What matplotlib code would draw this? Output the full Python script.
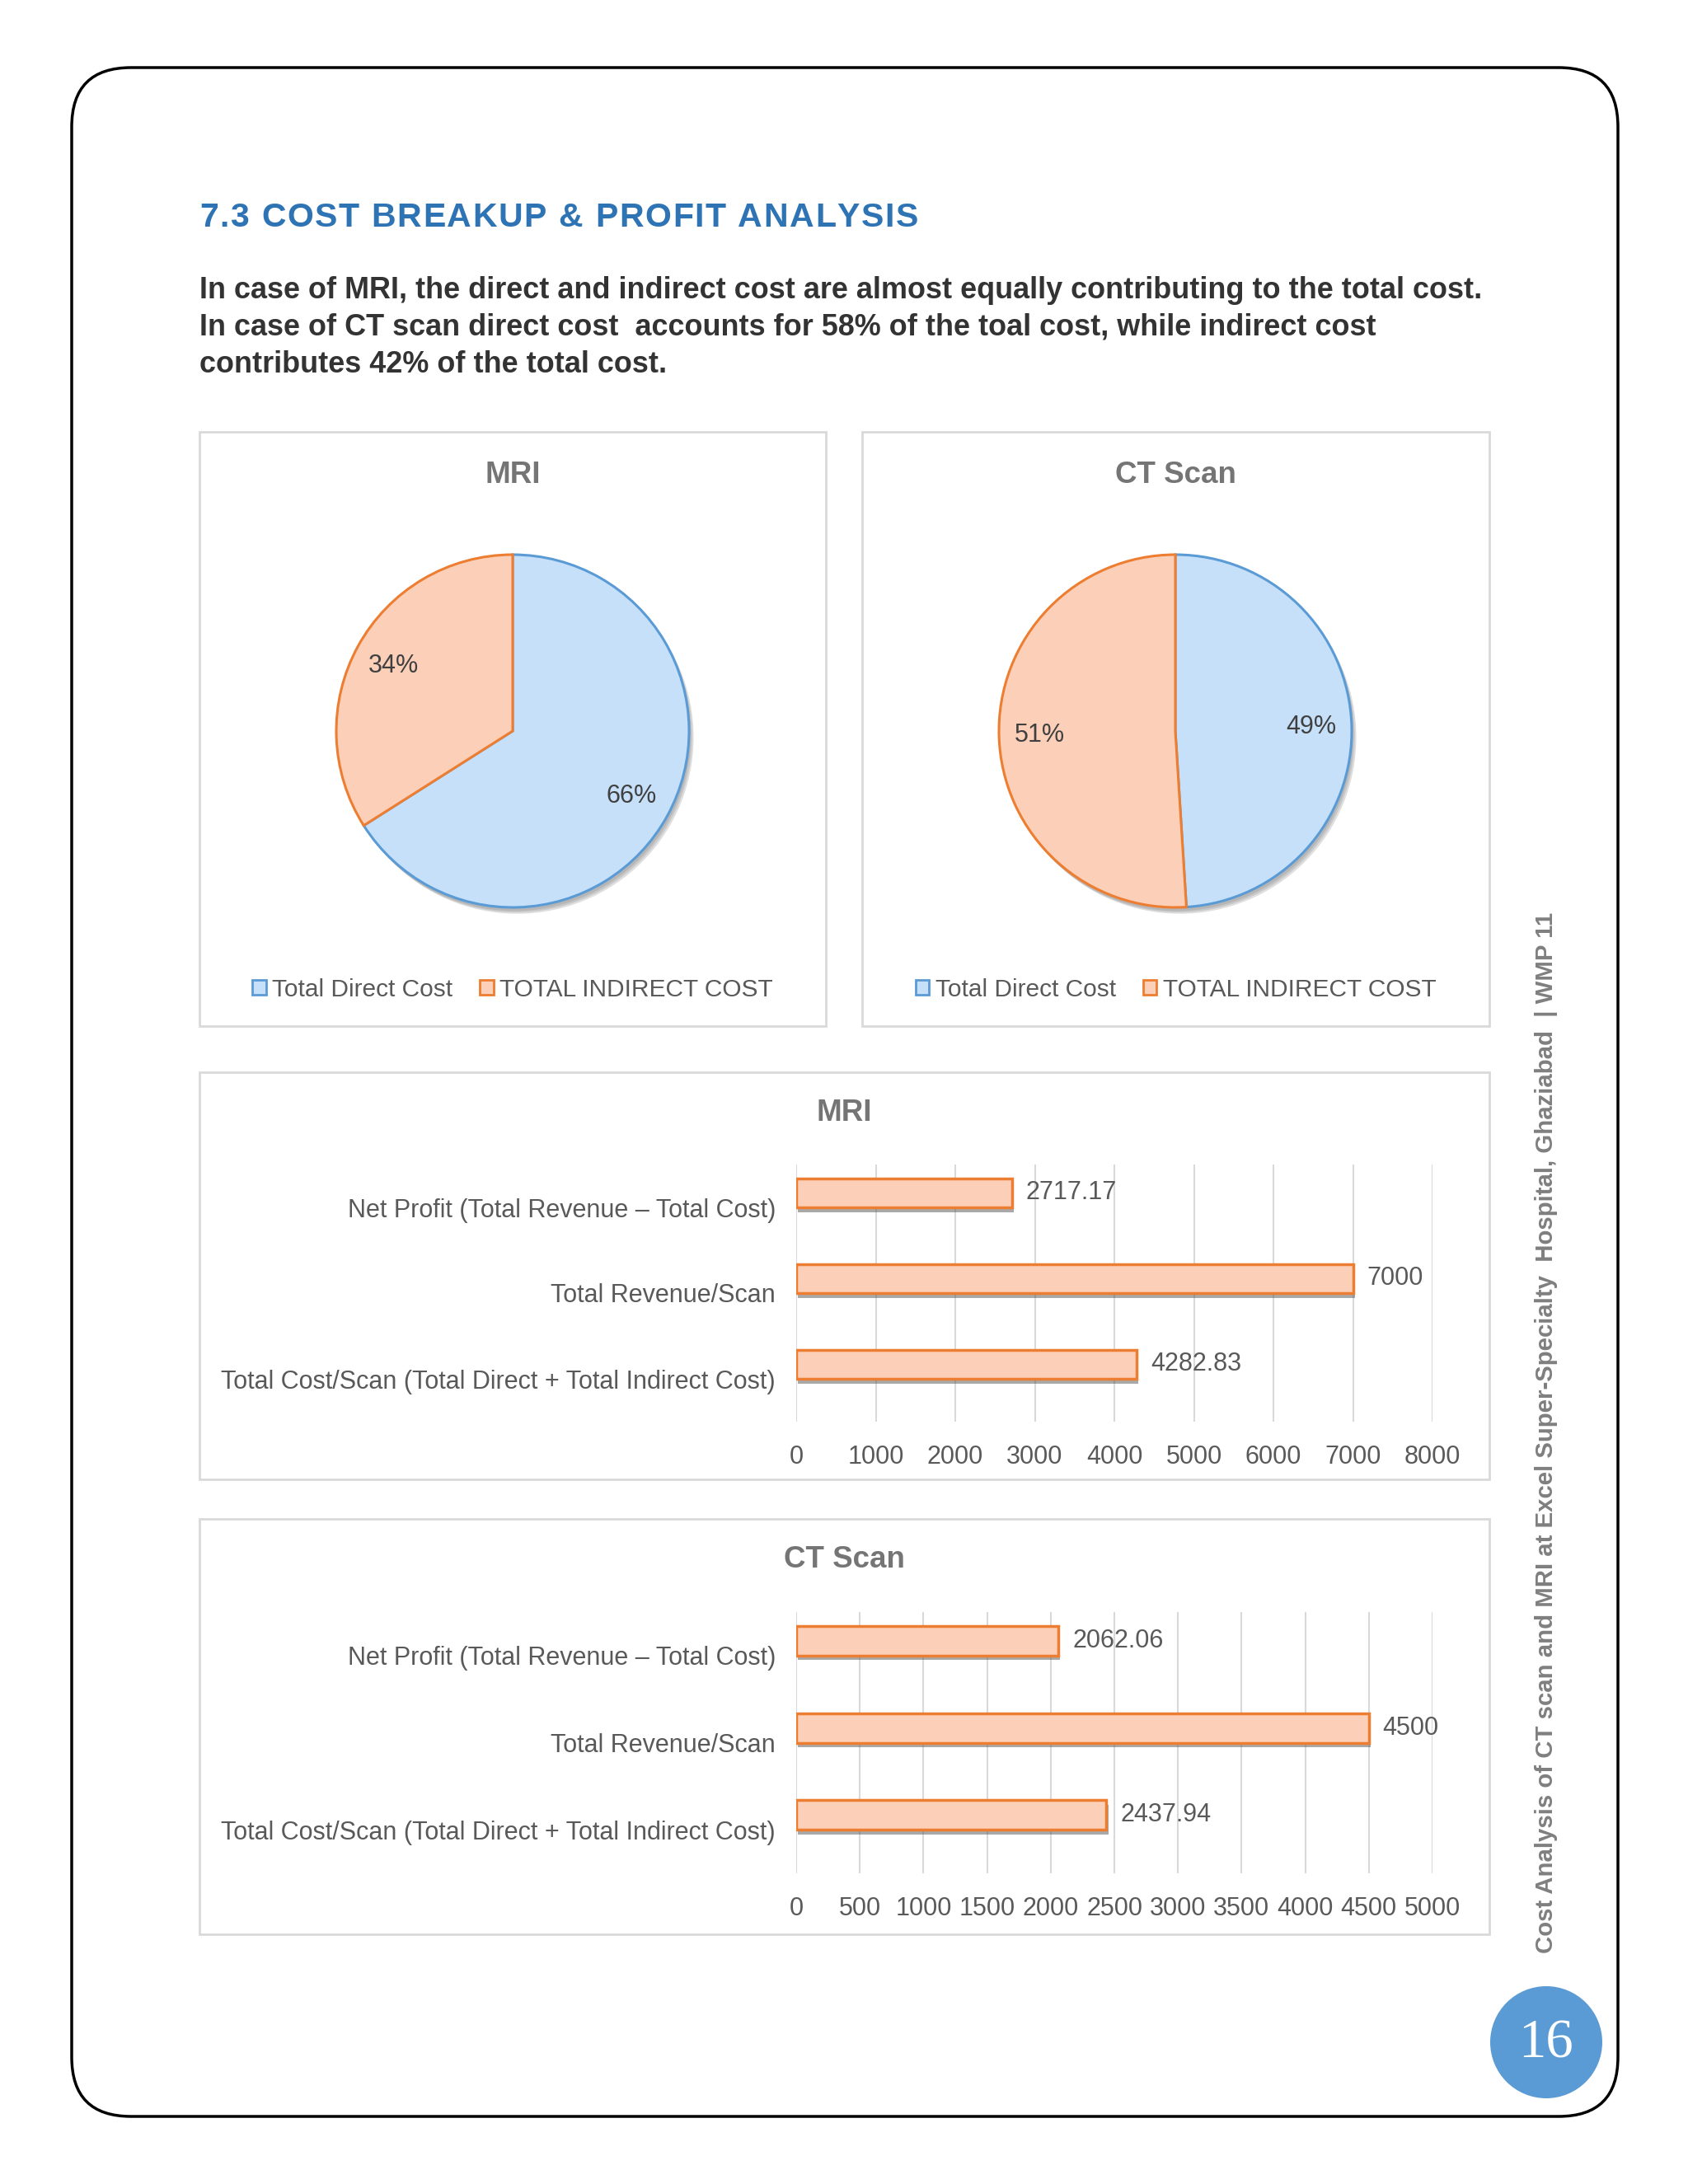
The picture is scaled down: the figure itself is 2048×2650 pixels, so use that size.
import numpy as np
import matplotlib.pyplot as plt
from matplotlib.patches import FancyBboxPatch, Rectangle, Circle, Patch
from matplotlib.font_manager import FontProperties
from matplotlib.textpath import TextToPath
import matplotlib.patheffects as pe

W, H = 2048, 2650

heading = "7.3 COST BREAKUP & PROFIT ANALYSIS"
intro_lines = [
    "In case of MRI, the direct and indirect cost are almost equally contributing to the total cost.",
    "In case of CT scan direct cost  accounts for 58% of the toal cost, while indirect cost",
    "contributes 42% of the total cost.",
]
side_note = "Cost Analysis of CT scan and MRI at Excel Super-Specialty  Hospital, Ghaziabad  | WMP 11"
page_no = "16"

# pie data (percent shares)
pie_labels = ["Total Direct Cost", "TOTAL INDIRECT COST"]
mri_share = [66, 34]
ct_share = [49, 51]

# bar data, top to bottom as shown
bar_cats = ["Net Profit (Total Revenue \u2013 Total Cost)",
            "Total Revenue/Scan",
            "Total Cost/Scan (Total Direct + Total Indirect Cost)"]
mri_values = [2717.17, 7000, 4282.83]
ct_values = [2062.06, 4500, 2437.94]
mri_ticks = list(range(0, 8001, 1000))
ct_ticks = list(range(0, 5001, 500))

BLUE_FILL, BLUE_EDGE = "#C6E0FA", "#5B9BD5"
PEACH_FILL, ORANGE_EDGE = "#FCCFB8", "#ED7D31"
GREY_TXT = "#595959"
FONT = "Liberation Sans"

plt.rcParams["font.family"] = [FONT, "DejaVu Sans"]

fig = plt.figure(figsize=(W / 100, H / 100), dpi=100)


def px_axes(x0, y0, x1, y1):
    return fig.add_axes([x0 / W, 1 - y1 / H, (x1 - x0) / W, (y1 - y0) / H])


bg = fig.add_axes([0, 0, 1, 1])
bg.set_xlim(0, W)
bg.set_ylim(H, 0)
bg.axis("off")

# page frame
bg.add_patch(FancyBboxPatch((87, 82), 1963 - 87, 2568 - 82,
                            boxstyle="round,pad=0,rounding_size=72",
                            fc="white", ec="black", lw=2.5))

# heading with letter spacing: place glyph by glyph
head_size = 29.5
head_prop = FontProperties(family=FONT, weight="bold", size=head_size)
t2p = TextToPath()
widths = [t2p.get_text_width_height_descent(ch, head_prop, ismath=False)[0] * 100 / 72
          for ch in heading]
track = (872 - sum(widths)) / (len(heading) - 1)
x = 242
for ch, w in zip(heading, widths):
    bg.text(x, 264, ch, color="#2E74B5", fontproperties=head_prop, va="center")
    x += w + track

for i, line in enumerate(intro_lines):
    bg.text(242, 352 + i * 45.5, line, color="#333333", fontsize=25.9,
            weight="bold", va="center")

# chart boxes
for (x0, y0, x1, y1) in [(242, 524, 1002, 1245), (1046, 524, 1807, 1245),
                         (242, 1301, 1807, 1795), (242, 1843, 1807, 2347)]:
    bg.add_patch(Rectangle((x0, y0), x1 - x0, y1 - y0, fc="white", ec="#D9D9D9", lw=2))

# side note + page number
bg.text(1876, 1738, side_note, rotation=90, ha="center", va="center",
        fontsize=21.2, color="#7F7F7F", weight="bold")
bg.add_patch(Circle((1876, 2478), 68, fc="#5B9BD5", ec="none"))
bg.text(1876, 2480, page_no, ha="center", va="center", color="white",
        fontsize=48, family="Liberation Serif")


def draw_pie(cx, cy, r, shares, title, box_cx):
    pad = 1.12
    ax = px_axes(cx - r * pad, cy - r * pad, cx + r * pad, cy + r * pad)
    # soft drop shadow
    for k, a in enumerate([0.2, 0.2, 0.22]):
        ax.add_patch(Circle((0.01 + 0.008 * k, -0.02 - 0.008 * k), 1.0,
                            fc="#6f6f6f", ec="none", alpha=a, zorder=0))
    wedges, _ = ax.pie(shares, colors=[BLUE_FILL, PEACH_FILL], startangle=90,
                       counterclock=False, radius=1,
                       wedgeprops=dict(linewidth=2.2))
    for w, ec in zip(wedges, [BLUE_EDGE, ORANGE_EDGE]):
        w.set_edgecolor(ec)
        w.set_zorder(2)
    for w, s in zip(wedges, shares):
        ang = np.deg2rad((w.theta1 + w.theta2) / 2)
        ax.text(0.77 * np.cos(ang), 0.77 * np.sin(ang), f"{s}%", ha="center",
                va="center", fontsize=22, color="#404040", zorder=3)
    ax.set_xlim(-pad, pad)
    ax.set_ylim(-pad, pad)
    ax.set_aspect("equal")
    ax.axis("off")
    bg.text(box_cx, 576, title, ha="center", va="center", fontsize=26.5,
            weight="bold", color="#757575")
    handles = [Patch(fc=BLUE_FILL, ec=BLUE_EDGE, lw=2),
               Patch(fc=PEACH_FILL, ec=ORANGE_EDGE, lw=2)]
    fig.legend(handles, pie_labels, loc="center",
               bbox_to_anchor=(box_cx / W, 1 - 1201 / H), ncol=2, frameon=False,
               fontsize=21.5, labelcolor=GREY_TXT, handlelength=0.55,
               handleheight=0.55, handletextpad=0.25, columnspacing=1.1)


draw_pie(622, 887, 214, mri_share, "MRI", 622)
draw_pie(1426, 887, 214, ct_share, "CT Scan", 1426.5)


def draw_bars(y0, y1, values, ticks, title, title_y):
    ax = px_axes(966, y0, 1738, y1)
    pos = np.arange(len(bar_cats))[::-1]
    bars = ax.barh(pos + 0.17, values, height=0.34, color=PEACH_FILL,
                   edgecolor=ORANGE_EDGE, linewidth=2.5, zorder=3)
    for b in bars:
        b.set_path_effects([pe.SimplePatchShadow(offset=(1.5, -4),
                                                 shadow_rgbFace="#555555", alpha=0.5),
                            pe.Normal()])
    for p, v in zip(pos, values):
        ax.annotate(f"{v:g}", (v, p + 0.17), xytext=(12, 0), textcoords="offset points",
                    ha="left", va="center", fontsize=22, color=GREY_TXT)
    ax.set_yticks(pos, bar_cats)
    ax.set_ylim(-0.5, len(bar_cats) - 0.5)
    ax.set_xlim(ticks[0], ticks[-1])
    ax.set_xticks(ticks)
    ax.grid(axis="x", color="#D9D9D9", lw=1.5, zorder=0)
    ax.set_axisbelow(True)
    for s in ax.spines.values():
        s.set_visible(False)
    ax.tick_params(axis="both", length=0, labelsize=22, colors=GREY_TXT)
    ax.tick_params(axis="x", pad=20)
    ax.tick_params(axis="y", pad=18)
    ax.patch.set_alpha(0)
    bg.text(1024.5, title_y, title, ha="center", va="center", fontsize=26.5,
            weight="bold", color="#757575")


draw_bars(1413, 1725, mri_values, mri_ticks, "MRI", 1350)
draw_bars(1956, 2273, ct_values, ct_ticks, "CT Scan", 1893)

fig.savefig("out.png", dpi=100, facecolor="white")
